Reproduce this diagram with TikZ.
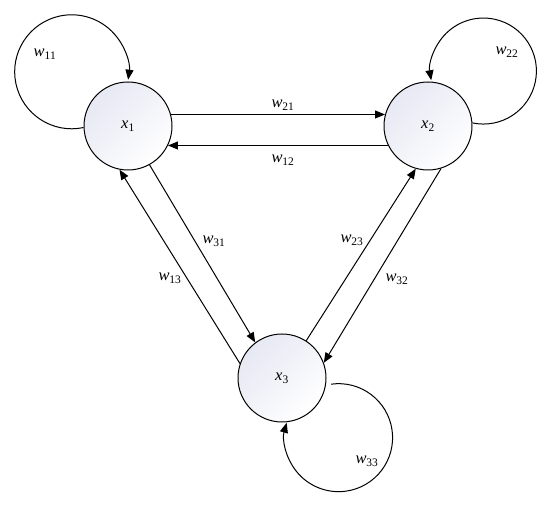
\documentclass[tikz,border=0pt]{standalone}
\usepackage{fontspec}
\setmainfont{Liberation Serif}
\usepackage{tikz}
\usetikzlibrary{arrows.meta}

\definecolor{nodeshade}{RGB}{230,232,243}
\newcommand{\wlab}[1]{\textit{w}\textsubscript{#1}}
\newcommand{\xlab}[1]{\textit{x}\textsubscript{#1}}

\begin{document}
\begin{tikzpicture}[x = 1bp, y = 1bp, font = \fontsize{16.5}{19}\selectfont,
	neuron/.style = {circle, draw, line width = 1bp, minimum size = 88bp, inner sep = 0pt,
		top color = nodeshade, bottom color = white, shading angle = 45},
	link/.style = {line width = 1bp, -{Triangle[length = 10bp, width = 8bp]}}]
					\useasboundingbox (0,0) rectangle (550,508);

					\begin{scope}
						\node [neuron] (x1) at (128,382) {\xlab{1}};
						\node [neuron] (x2) at (428,382) {\xlab{2}};
						\node [neuron] (x3) at (282,130) {\xlab{3}};
					\end{scope}

					\begin{scope}
						\draw [link] (x1.15) -- (x2.165);
						\draw [link] (x2.-154) -- (x1.-26);
						\draw [link] (x3.161) -- (x1.-101);
						\draw [link] (x1.-61) -- (x3.127);
						\draw [link] (x3.57) -- (x2.-106);
						\draw [link] (x2.-73) -- (x3.20);
					\end{scope}

					\begin{scope}
						\draw [link] (x1.182) arc [start angle = -78, end angle = -368, radius = 57bp];
						\draw [link] (x2.4) arc [start angle = -102, end angle = 190, radius = 53bp];
						\draw [link] ([xshift = 5bp] x3.-8) arc [start angle = 98, end angle = -196, radius = 54bp];
					\end{scope}

					\begin{scope}
						\node (w11) at (45,454) {\wlab{11}};
						\node (w22) at (507,456) {\wlab{22}};
						\node (w33) at (367,47) {\wlab{33}};
						\node (w21) at (283,403) {\wlab{21}};
						\node (w12) at (283,348) {\wlab{12}};
						\node (w31) at (214,267) {\wlab{31}};
						\node (w13) at (170,230) {\wlab{13}};
						\node (w23) at (352,268) {\wlab{23}};
						\node (w32) at (397,229) {\wlab{32}};
					\end{scope}
				\end{tikzpicture}
\end{document}
